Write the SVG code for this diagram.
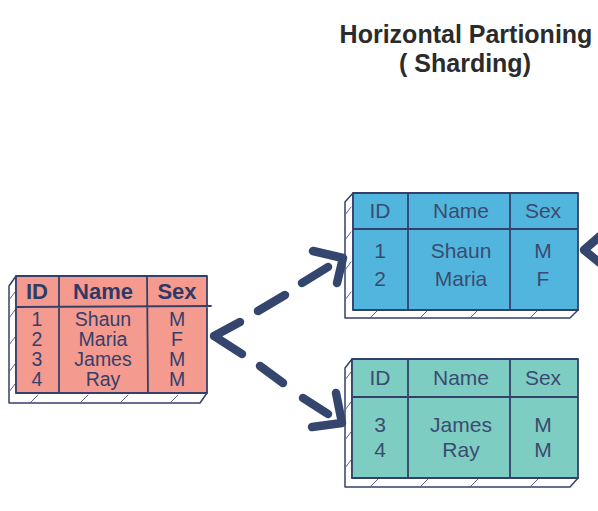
<svg xmlns="http://www.w3.org/2000/svg" width="598" height="511" viewBox="0 0 598 511">
<style>
.title{font-family:"Liberation Sans",Arial,sans-serif;font-weight:bold;font-size:25px;fill:#2b2b2b;text-anchor:middle}
.hb{font-family:"Liberation Sans",Arial,sans-serif;font-weight:bold;font-size:22px;fill:#2f3b66;text-anchor:middle}
.rl{font-family:"Liberation Sans",Arial,sans-serif;font-size:19.5px;fill:#34406b;text-anchor:middle}
.t{font-family:"Liberation Sans",Arial,sans-serif;font-size:21px;fill:#3b4b70;text-anchor:middle}
.edge{fill:none;stroke:#34406a;stroke-width:1.8;stroke-linecap:round;stroke-linejoin:round}
.slab{fill:#ffffff;stroke:#34406a;stroke-width:1.5;stroke-linejoin:round}
.hatch{fill:none;stroke:#5a6588;stroke-width:1;stroke-linecap:round}
.arrow{fill:none;stroke:#34466e;stroke-width:8.5;stroke-linecap:round;stroke-linejoin:round}
</style>
<rect width="598" height="511" fill="#ffffff"/>
<g id="title">
<text class="title" x="466" y="43">Horizontal Partioning</text>
<text class="title" x="465" y="72">( Sharding)</text>
</g>
<g id="table-all">
<polygon class="slab" points="16,276 9,286 9,403 200,403 207,393 16,393"/>
<path class="hatch" d="M9,300 L15,292 M9,318 L15,310 M9,345 L15,337 M9,372 L15,364 M9,392 L15,384 M30,403 L38,395 M80,403 L88,395 M120,403 L128,395 M170,403 L178,395"/>
<rect x="16" y="276" width="191" height="117" fill="#f59a8e"/>
<path class="edge" d="M16,276 L207,276 L207,393 L16,393 Z M16,307 L211,306 M59,276 L59,393 M147,276 L148,393"/>
<text class="hb" x="37" y="299">ID</text>
<text class="hb" x="103" y="299">Name</text>
<text class="hb" x="177" y="299">Sex</text>
<text class="rl" x="37" y="326">1</text><text class="rl" x="103" y="326">Shaun</text><text class="rl" x="177" y="326">M</text>
<text class="rl" x="37" y="346">2</text><text class="rl" x="103" y="346">Maria</text><text class="rl" x="177" y="346">F</text>
<text class="rl" x="37" y="366">3</text><text class="rl" x="103" y="366">James</text><text class="rl" x="177" y="366">M</text>
<text class="rl" x="37" y="386">4</text><text class="rl" x="103" y="386">Ray</text><text class="rl" x="177" y="386">M</text>
</g>
<g id="table-shard1">
<polygon class="slab" points="353,193 345,202 345,318 570,318 578,310 353,310"/>
<path class="hatch" d="M345,215 L351,207 M345,240 L351,232 M345,270 L351,262 M345,300 L351,292 M370,318 L378,310 M420,318 L428,310 M470,318 L478,310 M530,318 L538,310"/>
<rect x="353" y="193" width="225" height="117" fill="#52b5dd"/>
<path class="edge" d="M353,193 L578,193 L578,310 L353,310 Z M353,229 L578,229 M408,193 L408,310 M510,193 L510,310"/>
<text class="t" x="380" y="218">ID</text>
<text class="t" x="461" y="218">Name</text>
<text class="t" x="543" y="218">Sex</text>
<text class="t" x="380" y="258">1</text><text class="t" x="461" y="258">Shaun</text><text class="t" x="543" y="258">M</text>
<text class="t" x="380" y="286">2</text><text class="t" x="461" y="286">Maria</text><text class="t" x="543" y="286">F</text>
</g>
<g id="table-shard2">
<polygon class="slab" points="352,359 345,368 345,487 570,487 578,478 352,478"/>
<path class="hatch" d="M345,380 L351,372 M345,410 L351,402 M345,440 L351,432 M345,468 L351,460 M370,487 L378,479 M420,487 L428,479 M470,487 L478,479 M530,487 L538,479"/>
<rect x="352" y="359" width="226" height="119" fill="#7ecdc3"/>
<path class="edge" d="M352,359 L578,359 L578,478 L352,478 Z M352,397 L578,397 M408,359 L408,478 M510,359 L510,478"/>
<text class="t" x="380" y="385">ID</text>
<text class="t" x="461" y="385">Name</text>
<text class="t" x="543" y="385">Sex</text>
<text class="t" x="380" y="432">3</text><text class="t" x="461" y="432">James</text><text class="t" x="543" y="432">M</text>
<text class="t" x="380" y="457">4</text><text class="t" x="461" y="457">Ray</text><text class="t" x="543" y="457">M</text>
</g>
<g id="connectors">
<polyline class="arrow" points="240,322 214,336 242,354"/>
<line class="arrow" x1="258" y1="311" x2="285" y2="295"/>
<line class="arrow" x1="302" y1="283" x2="328" y2="267"/>
<polyline class="arrow" points="313,251 343,258 337,283"/>
<line class="arrow" x1="260" y1="366" x2="283" y2="383"/>
<line class="arrow" x1="303" y1="398" x2="328" y2="414"/>
<polyline class="arrow" points="336,393 342,423 312,427"/>
<polyline class="arrow" points="600,236 584,250 600,263"/>
</g>
</svg>
